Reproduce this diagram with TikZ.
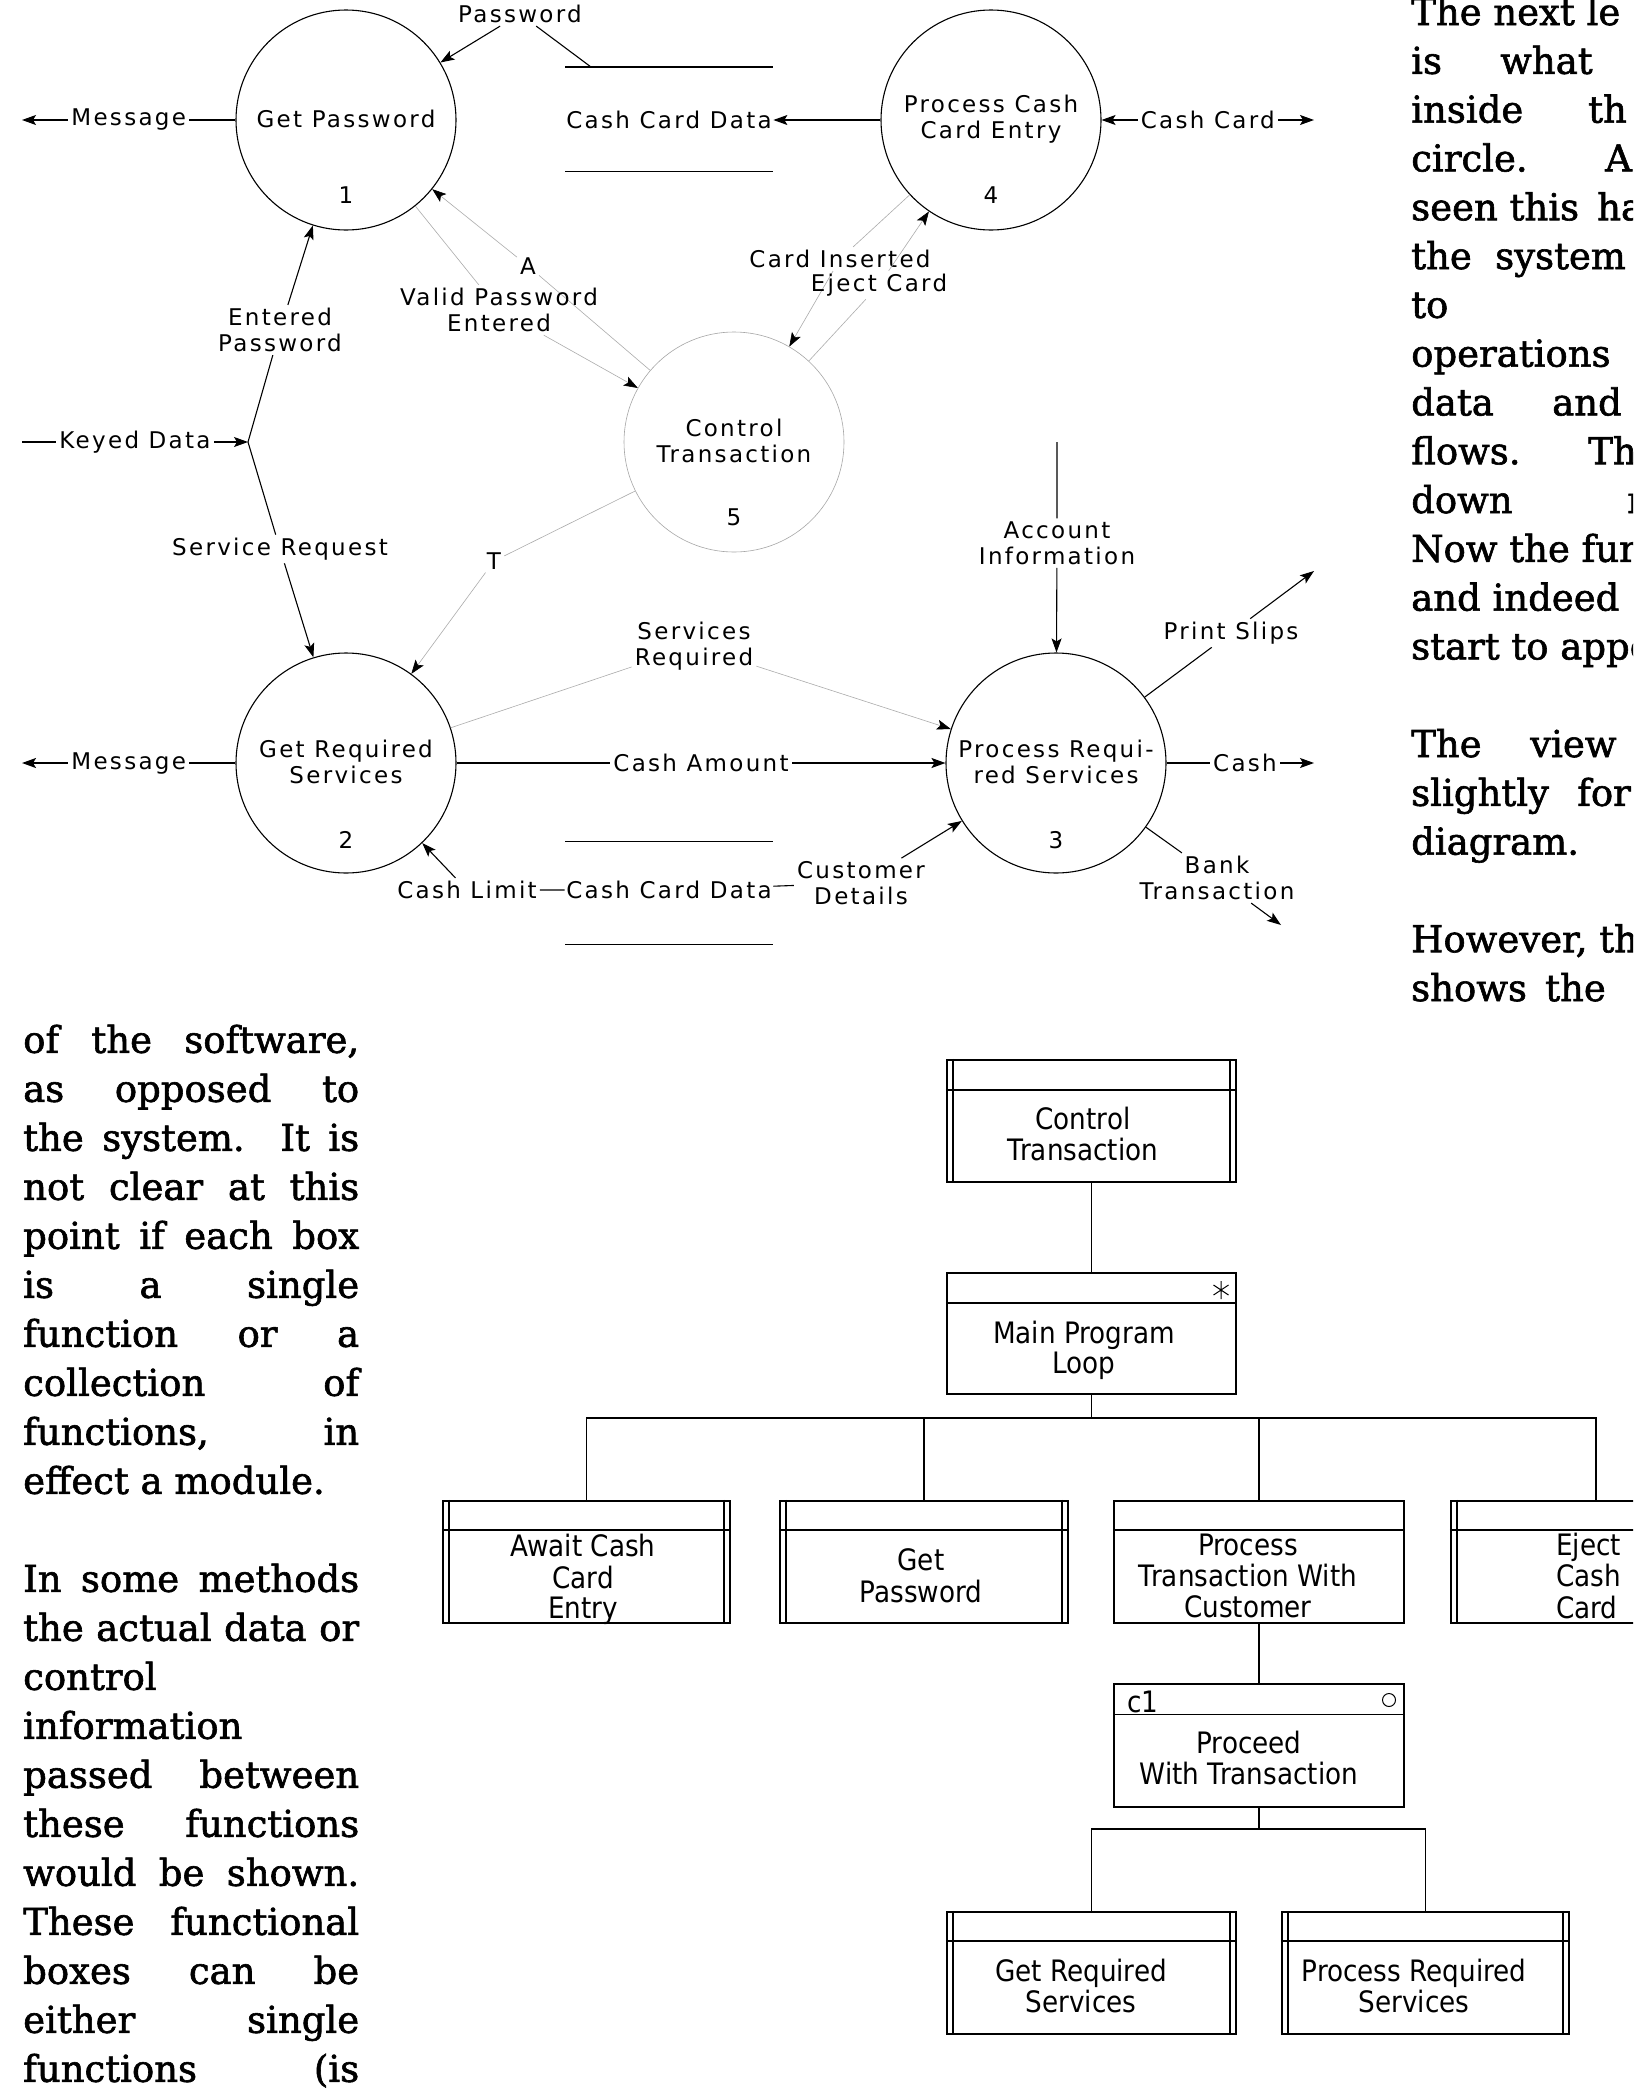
\documentclass[tikz,border=0pt]{standalone}
\usepackage{fontspec}
\usepackage{graphicx}
\setmainfont{DejaVu Serif}
\newfontfamily\serifb[FakeBold=1.6]{DejaVu Serif}
\newfontfamily\dfdfont[LetterSpace=10]{DejaVu Sans}
\newfontfamily\scfont{DejaVu Sans}
\usetikzlibrary{arrows.meta}
\newcommand\SCT[1]{\scalebox{0.89}[1]{\begin{tabular}{@{}c@{}}#1\end{tabular}}}
\newcommand\SCL[1]{\scalebox{0.89}[1]{\begin{tabular}{@{}l@{}}#1\end{tabular}}}
\newcommand\dblside[1]{\draw[dbl] ([xshift=7pt]#1.north west) -- ([xshift=7pt]#1.south west); \draw[dbl] ([xshift=-7pt]#1.north east) -- ([xshift=-7pt]#1.south east);}
\newcommand\hdrline[2]{\draw[hdr] ([yshift=-#2pt]#1.north west) -- ([yshift=-#2pt]#1.north east);}
\begin{document}
\begin{tikzpicture}[x=1pt,y=-1pt,
  >={Stealth[length=14pt,width=10pt,inset=3pt]},
  proc/.style={circle,draw,line width=1.1pt,minimum size=220pt,inner sep=0pt},
  ctl/.style={circle,draw=gray!70,line width=0.6pt,minimum size=220pt,inner sep=0pt},
  dl/.style={font=\dfdfont\fontsize{23}{26}\selectfont,inner sep=3pt,align=center},
  dlw/.style={dl,fill=white},
  fl/.style={draw,line width=1.1pt,->},
  fthick/.style={draw,line width=1.8pt,->},
  gfl/.style={draw=gray!65,line width=0.6pt,-{Stealth[length=14pt,width=10pt,inset=3pt,color=black]}},
  ptx/.style={font=\serifb\fontsize{37}{49}\selectfont,inner sep=0pt,anchor=base west},
  sc/.style={font=\scfont\fontsize{29.5}{30}\selectfont,inner sep=0pt},
  sbox/.style={draw,rectangle,line width=2.2pt,inner sep=0pt},
  hdr/.style={line width=1.3pt},
  dbl/.style={line width=1.3pt},
  conn/.style={line width=1.6pt}]
\path[use as bounding box] (0,0) rectangle (1633,2096);
\fill[white] (0,0) rectangle (1633,2096);
\clip (0,0) rectangle (1633,2096);

% ---------------- DFD processes ----------------
\node[proc] (C1) at (346,120) {};
\node[dl] (C1t) at (346,119) {Get Password};
\node[dl] (C1n) at (346,195) {1};
\node[proc] (C4) at (991,120) {};
\node[dl] (C4t) at (991,119) {Process Cash\\Card Entry};
\node[dl] (C4n) at (991,195) {4};
\node[ctl] (C5) at (734,442) {};
\node[dl] (C5t) at (734,441) {Control\\Transaction};
\node[dl] (C5n) at (734,517) {5};
\node[proc] (C2) at (346,763) {};
\node[dl] (C2t) at (346,762) {Get Required\\Services};
\node[dl] (C2n) at (346,840) {2};
\node[proc] (C3) at (1056,763) {};
\node[dl] (C3t) at (1056,762) {Process Requi-\\red Services};
\node[dl] (C3n) at (1056,840) {3};

% ---------------- data stores ----------------
\draw[line width=2pt] (565,67) -- (773,67);
\draw[line width=1pt] (565,171) -- (773,171);
\node[dl,inner sep=1.5pt] (DS1) at (669,120) {Cash Card Data};
\draw[line width=1pt] (565,841) -- (773,841);
\draw[line width=1pt] (565,944) -- (773,944);
\node[dl,inner sep=1.5pt] (DS2) at (669,890) {Cash Card Data};

% ---------------- flows ----------------
\draw[fl] (C4) -- (DS1);
\node[dl] (PWl) at (520,14) {Password};
\coordinate (PWs) at (591,67);
\draw[fl] (PWs) -- (PWl) -- (C1);

\coordinate (M1e) at (22,120);
\draw[fl] (C1) -- node[dlw] (M1l) {Message} (M1e);
\coordinate (M2e) at (22,763);
\draw[fthick] (C2) -- node[dlw] (M2l) {Message} (M2e);

\coordinate (CCe) at (1314,120);
\draw[fl,<->] (C4) -- node[dlw] (CCl) {Cash Card} (CCe);

\coordinate (KDs) at (22,442);
\coordinate (J) at (248,442);
\draw[fl] (KDs) -- node[dlw] (KDl) {Keyed Data} (J);
\node[dl] (EPl) at (280,330) {Entered\\Password};
\draw[fl] (J) -- (EPl) -- (C1);
\node[dl] (SRl) at (280,549) {Service Request};
\draw[fl] (J) -- (SRl) -- (C2);

\node[dl] (Al) at (528,266) {A};
\draw[gfl] (C5) -- (Al) -- (C1);
\node[dl] (VPl) at (499,310) {Valid Password\\Entered};
\draw[gfl] (C1) -- (VPl) -- (C5);

\node[dl] (CIl) at (840,259) {Card Inserted};
\draw[gfl] (C4) -- (CIl) -- (C5);
\node[dl] (ECl) at (879,285) {Eject Card};
\draw[gfl] (C5) -- (ECl) -- (C4);

\node[dl] (Tl) at (494,561) {T};
\draw[gfl] (C5) -- (Tl) -- (C2);
\node[dl] (SQl) at (694,646) {Services\\Required};
\draw[gfl] (C2) -- (SQl) -- (C3);

\draw[fthick] (C2) -- node[dlw] (CAl) {Cash Amount} (C3);

\node[dl] (CLl) at (467,890) {Cash Limit};
\draw[fl] (DS2) -- (CLl) -- (C2);
\node[dl] (CDl) at (861,883) {Customer\\Details};
\draw[fl] (DS2) -- (CDl) -- (C3);

\coordinate (AIs) at (1057,442);
\node[dl] (AIl) at (1057,543) {Account\\Information};
\draw[fl] (AIs) -- (AIl) -- (C3);
\node[dl] (PSl) at (1231,633) {Print Slips};
\coordinate (PSe) at (1314,571);
\draw[fl] (C3) -- (PSl) -- (PSe);
\node[dl] (CSl) at (1245,763) {Cash};
\coordinate (CSe) at (1314,763);
\draw[fl] (C3) -- (CSl) -- (CSe);
\node[dl] (BTl) at (1217,878) {Bank\\Transaction};
\coordinate (BTe) at (1281,925);
\draw[fl] (C3) -- (BTl) -- (BTe);

% ---------------- structure chart ----------------
\node[sbox,minimum width=289pt,minimum height=122pt] (CT) at (1091.5,1121) {};
\hdrline{CT}{31}\dblside{CT}
\node[sc] (CTt) at (1083,1138) {\SCT{Control\\Transaction}};

\node[sbox,minimum width=289pt,minimum height=121pt] (MPL) at (1091.5,1333.5) {};
\hdrline{MPL}{31}
\node[sc] (MPLt) at (1084,1352) {\SCT{Main Program\\Loop}};
\draw[line width=1pt] (1221,1281) -- (1221,1299) (1213.5,1285) -- (1228.5,1295) (1213.5,1295) -- (1228.5,1285);

\node[sbox,minimum width=287pt,minimum height=122pt] (B1) at (586.5,1562) {};
\hdrline{B1}{30}\dblside{B1}
\node[sc] (B1t) at (583,1581) {\SCT{Await Cash\\Card\\Entry}};
\node[sbox,minimum width=288pt,minimum height=122pt] (B2) at (924,1562) {};
\hdrline{B2}{30}\dblside{B2}
\node[sc] (B2t) at (921,1580) {\SCT{Get\\Password}};
\node[sbox,minimum width=290pt,minimum height=122pt] (B3) at (1259,1562) {};
\hdrline{B3}{30}
\node[sc] (B3t) at (1248,1580) {\SCT{Process\\Transaction With\\Customer}};
\node[sbox,minimum width=290pt,minimum height=122pt] (B4) at (1596,1562) {};
\hdrline{B4}{30}\dblside{B4}
\node[sc,anchor=west] (B4t) at (1556,1580) {\SCL{Eject\\Cash\\Card}};

\node[sbox,line width=1.6pt,minimum width=290pt,minimum height=123pt] (PWT) at (1259,1745.5) {};
\hdrline{PWT}{31}
\node[sc,anchor=west] (PWTc) at (1127,1702) {\scalebox{0.89}[1]{c1}};
\node[circle,draw,line width=1pt,minimum size=13pt,inner sep=0pt] (SEL) at (1389,1700) {};
\node[sc] (PWTt) at (1249,1762) {\SCT{Proceed\\With Transaction}};

\node[sbox,minimum width=289pt,minimum height=122pt] (GRS) at (1091.5,1973) {};
\hdrline{GRS}{30}\dblside{GRS}
\node[sc] (GRSt) at (1081,1990) {\SCT{Get Required\\Services}};
\node[sbox,minimum width=287pt,minimum height=122pt] (PRS) at (1425.5,1973) {};
\hdrline{PRS}{30}\dblside{PRS}
\node[sc] (PRSt) at (1414,1990) {\SCT{Process Required\\Services}};

\coordinate (BAR1) at (1091.5,1418);
\draw[conn] (CT.south) -- (MPL.north);
\draw[conn] (MPL.south) -- (BAR1);
\draw[conn] (B1.north) |- (BAR1);
\draw[conn] (B2.north) |- (BAR1);
\draw[conn] (B3.north) |- (BAR1);
\draw[conn] (B4.north) |- (BAR1);
\draw[conn] (B3.south) -- (PWT.north);
\coordinate (BAR2) at (1259,1829);
\draw[conn] (PWT.south) -- (BAR2);
\draw[conn] (GRS.north) |- (BAR2);
\draw[conn] (PRS.north) |- (BAR2);

% ---------------- right text column ----------------
\node[ptx] (R0) at (1411,25) {The next le};
\node[ptx] (R1a) at (1411,73.8) {is};
\node[ptx] (R1b) at (1500,73.8) {what};
\node[ptx] (R2a) at (1411,122.6) {inside};
\node[ptx] (R2b) at (1588,122.6) {th};
\node[ptx] (R3a) at (1411,171.4) {circle.};
\node[ptx] (R3b) at (1605,171.4) {A};
\node[ptx] (R4a) at (1411,220.2) {seen this};
\node[ptx] (R4c) at (1597,220.2) {ha};
\node[ptx] (R5a) at (1411,269) {the};
\node[ptx] (R5b) at (1495,269) {system};
\node[ptx] (R6) at (1411,317.8) {to};
\node[ptx] (R7) at (1411,366.6) {operations};
\node[ptx] (R8a) at (1411,415.4) {data};
\node[ptx] (R8b) at (1552,415.4) {and};
\node[ptx] (R9a) at (1411,464.2) {flows.};
\node[ptx] (R9b) at (1588,464.2) {Th};
\node[ptx] (R10a) at (1411,513) {down};
\node[ptx] (R10b) at (1627,513) {r};
\node[ptx] (R11) at (1411,561.8) {Now the fur};
\node[ptx] (R12) at (1411,610.6) {and indeed};
\node[ptx] (R13) at (1411,659.4) {start to appe};
\node[ptx] (R15a) at (1411,757) {The};
\node[ptx] (R15b) at (1530,757) {view};
\node[ptx] (R16a) at (1411,805.8) {slightly};
\node[ptx] (R16b) at (1577,805.8) {for};
\node[ptx] (R17) at (1411,854.6) {diagram.};
\node[ptx] (R19) at (1411,952.2) {However, th};
\node[ptx] (R20a) at (1411,1001) {shows};
\node[ptx] (R20b) at (1545,1001) {the};

% ---------------- left text column ----------------
\node[ptx] (L0) at (23,1052.8) {\makebox[336pt][s]{of the software,}};
\node[ptx] (L1) at (23,1101.8) {\makebox[336pt][s]{as opposed to}};
\node[ptx] (L2) at (23,1150.8) {\makebox[336pt][s]{the system. It is}};
\node[ptx] (L3) at (23,1199.8) {\makebox[336pt][s]{not clear at this}};
\node[ptx] (L4) at (23,1248.8) {\makebox[336pt][s]{point if each box}};
\node[ptx] (L5) at (23,1297.8) {\makebox[336pt][s]{is a single}};
\node[ptx] (L6) at (23,1346.8) {\makebox[336pt][s]{function or a}};
\node[ptx] (L7) at (23,1395.8) {\makebox[336pt][s]{collection of}};
\node[ptx] (L8) at (23,1444.8) {\makebox[336pt][s]{functions, in}};
\node[ptx] (L9) at (23,1493.8) {effect a module.};
\node[ptx] (L11) at (23,1591.8) {\makebox[336pt][s]{In some methods}};
\node[ptx] (L12) at (23,1640.8) {\makebox[336pt][s]{the actual data or}};
\node[ptx] (L13) at (23,1689.8) {control};
\node[ptx] (L14) at (23,1738.8) {information};
\node[ptx] (L15) at (23,1787.8) {\makebox[336pt][s]{passed between}};
\node[ptx] (L16) at (23,1836.8) {\makebox[336pt][s]{these functions}};
\node[ptx] (L17) at (23,1885.8) {\makebox[336pt][s]{would be shown.}};
\node[ptx] (L18) at (23,1934.8) {\makebox[336pt][s]{These functional}};
\node[ptx] (L19) at (23,1983.8) {\makebox[336pt][s]{boxes can be}};
\node[ptx] (L20) at (23,2032.8) {\makebox[336pt][s]{either single}};
\node[ptx] (L21) at (23,2081.8) {\makebox[336pt][s]{functions (is}};
\end{tikzpicture}
\end{document}
